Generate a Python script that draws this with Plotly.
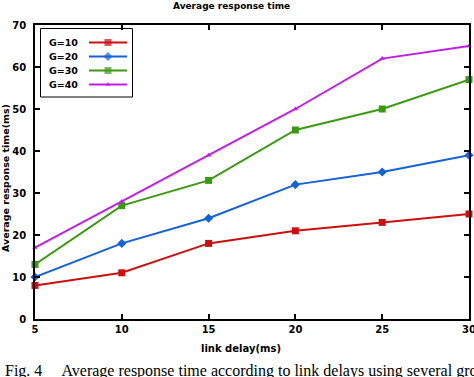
import plotly.graph_objects as go

link_delay = [5, 10, 15, 20, 25, 30]
g10 = [8, 11, 18, 21, 23, 25]
g20 = [10, 18, 24, 32, 35, 39]
g30 = [13, 27, 33, 45, 50, 57]
g40 = [17, 28, 39, 50, 62, 65]
x_ticks = [5, 10, 15, 20, 25, 30]
y_ticks = [0, 10, 20, 30, 40, 50, 60, 70]

series = [
    ("G=10", g10, "#cc1010", "square", 7),
    ("G=20", g20, "#1462d8", "diamond", 7),
    ("G=30", g30, "#3c9a12", "square", 7),
    ("G=40", g40, "#c01ee6", "triangle-up", 5),
]

W, H = 474, 377
L, R, T, B = 35, 5, 25, 58
PW, PH = W - L - R, H - T - B


def px(x):
    return (x - L) / PW


def py(y):
    return (H - B - y) / PH


fig = go.Figure()
for name, ys, color, sym, sz in series:
    fig.add_trace(go.Scatter(
        x=link_delay, y=ys, name=name, mode="lines+markers",
        line=dict(color=color, width=2),
        marker=dict(symbol=sym, size=sz, color=color, line=dict(width=0)),
        cliponaxis=False, showlegend=False,
    ))

# custom legend (text left, sample right) drawn on an overlay pixel axis
leg_rows = [42.5, 56.5, 70.5, 84.5]
for (name, ys, color, sym, sz), yy in zip(series, leg_rows):
    fig.add_trace(go.Scatter(
        x=[89, 108, 127], y=[yy, yy, yy], xaxis="x2", yaxis="y2",
        mode="lines+markers", line=dict(color=color, width=2),
        marker=dict(symbol=sym, size=[0, sz, 0], color=color, line=dict(width=0)),
        showlegend=False, hoverinfo="skip",
    ))

axis_common = dict(
    showgrid=False, zeroline=False, showline=True, linecolor="black", linewidth=1.5,
    mirror="allticks", ticks="inside", ticklen=5, tickcolor="black", tickwidth=1.5,
    tickfont=dict(family="DejaVu Sans", size=10, color="black"), automargin=False,
    ticklabeloverflow="allow",
)

fig.update_layout(
    xaxis=dict(range=[5, 30], tickvals=x_ticks,
               ticktext=["<b>%d</b>" % v for v in x_ticks], **axis_common),
    yaxis=dict(range=[0, 70], tickvals=y_ticks,
               ticktext=["<b>%d</b>" % v for v in y_ticks],
               ticklabelstandoff=5, **axis_common),
    xaxis2=dict(overlaying="x", range=[L, W - R], visible=False, fixedrange=True),
    yaxis2=dict(overlaying="y", range=[H - B, T], visible=False, fixedrange=True),
)

annotations = [
    dict(text="<b>Average response time</b>", x=px(231), y=py(6),
         font=dict(family="DejaVu Sans", size=9, color="black")),
    dict(text="<b>link delay(ms)</b>", x=px(241), y=py(348),
         font=dict(family="DejaVu Sans", size=10, color="black")),
    dict(text="<b>Average response time(ms)</b>", x=px(5), y=py(178), textangle=-90,
         font=dict(family="DejaVu Sans", size=9.5, color="black")),
]
for (name, ys, color, sym, sz), yy in zip(series, leg_rows):
    annotations.append(dict(text="<b>" + name + "</b>", x=px(47), y=py(yy), xanchor="left",
                            font=dict(family="DejaVu Sans", size=9.5, color="black")))
annotations.append(dict(
    text="Fig. 4     Average response time according to link delays using several group",
    x=px(3), y=py(371), xanchor="left",
    font=dict(family="Liberation Serif", size=16, color="black")))

for a in annotations:
    a.setdefault("xanchor", "center")
    a.setdefault("yanchor", "middle")
    a.update(xref="paper", yref="paper", showarrow=False)

fig.update_layout(
    width=W, height=H,
    margin=dict(l=L, r=R, t=T, b=B),
    paper_bgcolor="white", plot_bgcolor="white",
    showlegend=False,
    annotations=annotations,
    shapes=[dict(type="rect", xref="paper", yref="paper",
                 x0=px(40.5), x1=px(132.5), y0=py(28.5), y1=py(97),
                 line=dict(color="black", width=1), fillcolor="white", layer="below")],
)

fig.write_html("out.html", config={"displayModeBar": False},
               post_script="document.body.style.margin='0';document.body.style.padding='0';")
